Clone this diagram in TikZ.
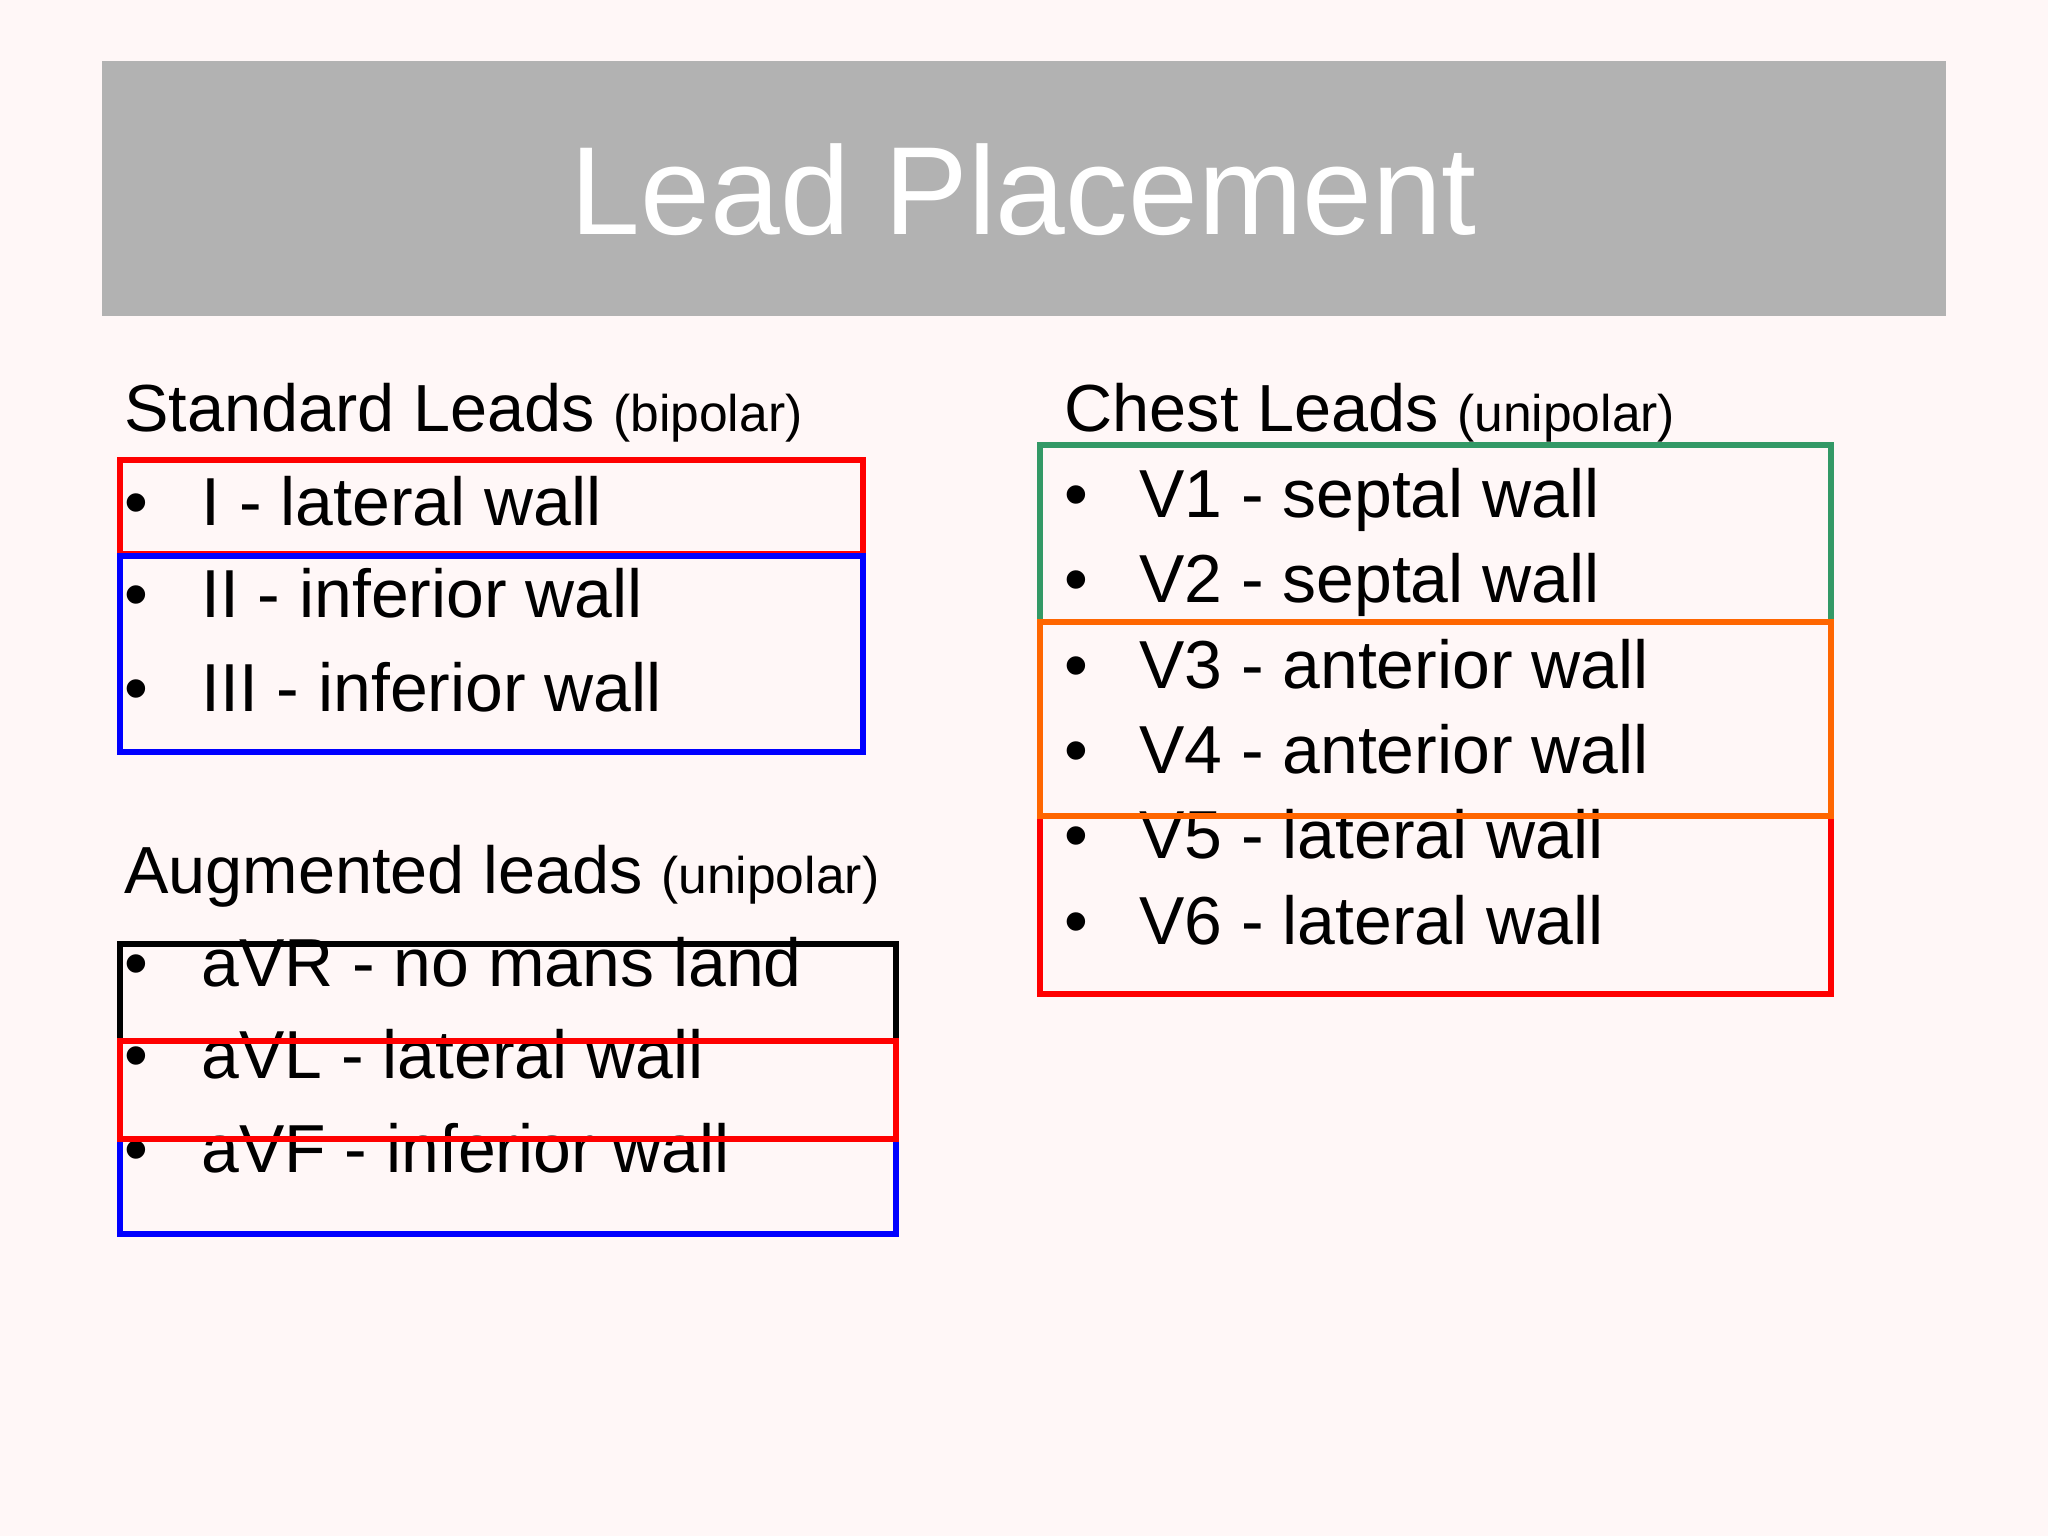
\documentclass[tikz,border=0pt]{standalone}
\usepackage{fontspec}
\setmainfont{Liberation Sans}
\definecolor{boxgreen}{HTML}{339966}
\definecolor{boxorange}{HTML}{FF6600}
\begin{document}
\begin{tikzpicture}[x=1pt,y=-1pt,
  box/.style={line width=4.5pt},
  txt/.style={anchor=base west,inner sep=0pt,font=\fontsize{52}{52}\selectfont},
  hdr/.style={anchor=base west,inner sep=0pt,font=\fontsize{51}{51}\selectfont}]
\useasboundingbox[fill=red!3] (0,0) rectangle (1568,1176);
\fill[gray!60] (78,47) rectangle (1490,242);
\node[text=white,font=\fontsize{96}{96}\selectfont,inner sep=0pt] (title) at (784,145) {Lead Placement};
% headers
\node[hdr] (h1) at (95,330) {Standard Leads {\fontsize{39.5}{40}\selectfont(bipolar)}};
\node[hdr] (h2) at (95,684) {Augmented leads {\fontsize{39.5}{40}\selectfont(unipolar)}};
\node[hdr] (h3) at (815,330) {Chest Leads {\fontsize{39.5}{40}\selectfont(unipolar)}};
% left items
\foreach \y/\t [count=\i] in {402/I - lateral wall,473/II - inferior wall,545/III - inferior wall,755/aVR - no mans land,826/aVL - lateral wall,898/aVF - inferior wall}{
  \node[txt] (lb\i) at (95,\y) {•};
  \node[txt] (lt\i) at (154,\y) {\t};
}
\foreach \y/\t [count=\i] in {396/V1 - septal wall,461/V2 - septal wall,527/V3 - anterior wall,592/V4 - anterior wall,657/V5 - lateral wall,723/V6 - lateral wall}{
  \node[txt] (rb\i) at (815,\y) {•};
  \node[txt] (rt\i) at (872,\y) {\t};
}
% boxes
\draw[box,red] (92,352) rectangle (661,424);
\draw[box,blue] (92,426) rectangle (661,576);
\draw[box,black] (92,723) rectangle (686,797);
\draw[box,blue] (92,872) rectangle (686,945);
\draw[box,red] (92,797) rectangle (686,872);
\draw[box,red] (796,625) rectangle (1402,761);
\draw[box,boxgreen] (796,341) rectangle (1402,476);
\draw[box,boxorange] (796,476) rectangle (1402,625);
\end{tikzpicture}
\end{document}
